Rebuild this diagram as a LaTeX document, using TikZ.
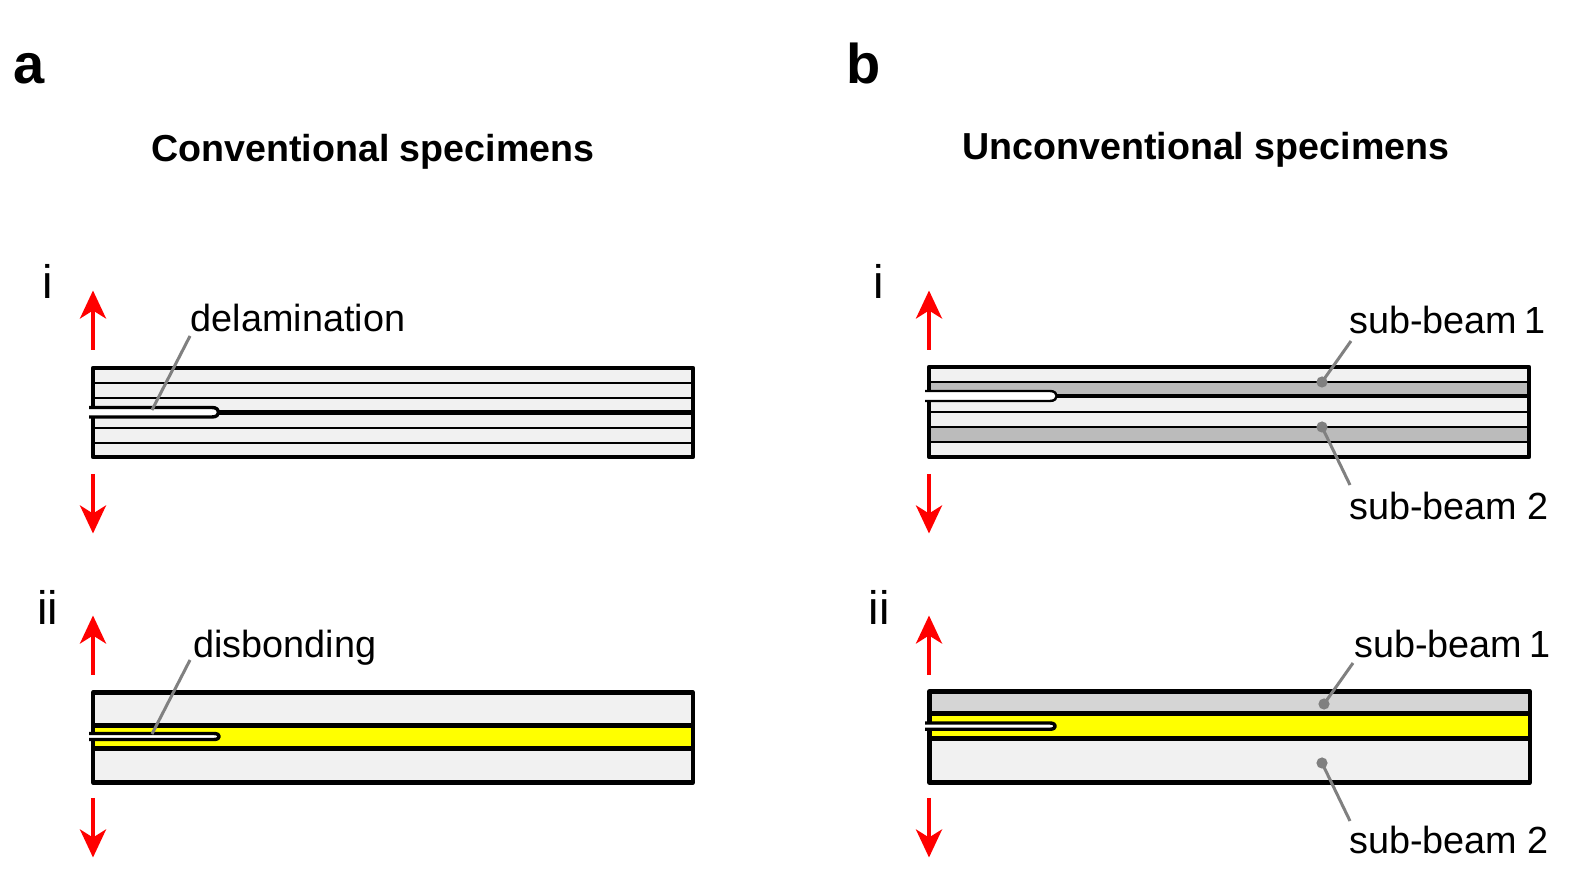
\documentclass[tikz,border=0pt]{standalone}
\usepackage{fontspec}
\setmainfont{Liberation Sans}
\usetikzlibrary{arrows.meta}
\definecolor{plylight}{RGB}{241,241,241}
\definecolor{plydark}{RGB}{187,187,187}
\definecolor{plymid}{RGB}{213,213,213}
\definecolor{leadgray}{RGB}{128,128,128}
\definecolor{adhesive}{RGB}{255,255,0}
\begin{document}
\begin{tikzpicture}[x=0.5pt,y=-0.5pt,line join=round,
  outer/.style={draw=black,line width=2.1pt},
  thin ply/.style={draw=black,line width=1pt},
  thick ply/.style={draw=black,line width=2.1pt},
  crack/.style={draw=black,fill=white,line width=1.7pt},
  load/.style={draw=red,line width=2pt,-{Stealth[length=14pt,width=13pt,inset=4pt]}},
  leader/.style={draw=leadgray,line width=1.5pt},
  dot/.style={fill=leadgray},
  word/.style={anchor=base west,inner sep=0pt,font=\fontsize{18.9}{22}\selectfont},
  roman/.style={anchor=base,inner sep=0pt,font=\fontsize{23.5}{26}\selectfont},
  title/.style={anchor=base west,inner sep=0pt,font=\fontsize{18.8}{22}\selectfont\bfseries},
  panel/.style={anchor=base west,inner sep=0pt,font=\fontsize{28}{30}\selectfont\bfseries}]
\useasboundingbox (0,0) rectangle (1569,870);
\fill[white] (0,0) rectangle (1569,870);

% headings
\node[panel] (la) at (13,83.5) {a};
\node[panel] (lb) at (846,83.5) {b};
\node[title] (ta) at (151,162) {Conventional specimens};
\node[title] (tb) at (962,160) {Unconventional specimens};
\node[roman] (ai) at (47.5,299) {i};
\node[roman] (aii) at (47.5,625) {ii};
\node[roman] (bi) at (879,299) {i};
\node[roman] (bii) at (879,625) {ii};

% red load arrows
\foreach \n/\x/\ya/\yb/\yc/\yd in {a/93/350/290.5/474/533.5, b/929/350/290.5/474/533.5,
                                   c/93/675/615.5/798/857.5, d/929/675/615.5/798/857.5} {
  \coordinate (\n1) at (\x,\ya);
  \coordinate (\n2) at (\x,\yb);
  \coordinate (\n3) at (\x,\yc);
  \coordinate (\n4) at (\x,\yd);
  \draw[load] (\n1) -- (\n2);
  \draw[load] (\n3) -- (\n4);
}

% a-i: laminate
\fill[plylight] (93,368) rectangle (693,457);
\draw[thin ply] (93,383) -- (693,383) (93,398) -- (693,398)
                (93,428) -- (693,428) (93,443) -- (693,443);
\draw[thick ply] (210,412.5) -- (693,412.5);
\draw[outer] (93,368) rectangle (693,457);
\draw[crack] (89,407.5) -- (212,407.5) .. controls (221,407.5) and (221,417) .. (212,417) -- (89,417);

% a-ii: bonded joint
\fill[plylight] (93,692.5) rectangle (693,782.5);
\fill[adhesive] (93,726) rectangle (693,749);
\draw[thick ply] (93,725.5) -- (693,725.5) (93,748.5) -- (693,748.5);
\draw[outer] (93,692.5) rectangle (693,782.5);
\draw[crack] (89,733.5) -- (214,733.5) .. controls (221,733.5) and (221,739.5) .. (214,739.5) -- (89,739.5);

% b-i: laminate with sub-beams
\fill[plylight] (929,367) rectangle (1529,457);
\fill[plydark] (929,382) rectangle (1529,396);
\fill[plydark] (929,427) rectangle (1529,442);
\draw[thin ply] (929,382) -- (1529,382) (929,412) -- (1529,412)
                (929,427) -- (1529,427) (929,442) -- (1529,442);
\draw[draw=black,line width=2.4pt] (1050,396) -- (1529,396);
\draw[outer] (929,367) rectangle (1529,457);
\draw[crack,line width=1.2pt] (925,391) -- (1050,391) .. controls (1059,391) and (1059,401) .. (1050,401) -- (925,401);

% b-ii: bonded joint with sub-beams
\fill[plylight] (929.5,691.5) rectangle (1530,782.5);
\fill[plymid] (929.5,691.5) rectangle (1530,714);
\fill[adhesive] (929.5,714) rectangle (1530,739);
\draw[thick ply] (929.5,713.5) -- (1530,713.5) (929.5,738.5) -- (1530,738.5);
\draw[outer] (929.5,691.5) rectangle (1530,782.5);
\draw[crack] (925,723) -- (1050,723) .. controls (1057,723) and (1057,729.3) .. (1050,729.3) -- (925,729.3);

% labels and leaders
\node[word] (del) at (190.5,332) {delamination};
\node[word] (dis) at (193,658) {disbonding};
\node[word] (s1) at (1349,334) {sub-beam\kern-1.6pt{} 1};
\node[word] (s2) at (1349,519.5) {sub-beam 2};
\node[word] (s3) at (1354,658) {sub-beam\kern-1.6pt{} 1};
\node[word] (s4) at (1349,854) {sub-beam 2};

\coordinate (del-a) at (190,336);
\coordinate (del-b) at (152,410);
\coordinate (dis-a) at (190,660);
\coordinate (dis-b) at (152,734);
\coordinate (s1-a) at (1351,341);
\coordinate (s1-b) at (1322,382);
\coordinate (s2-a) at (1350,485);
\coordinate (s2-b) at (1322,427);
\coordinate (s3-a) at (1353,663);
\coordinate (s3-b) at (1324,704);
\coordinate (s4-a) at (1350,821);
\coordinate (s4-b) at (1322,763);

\draw[leader] (del-a) -- (del-b);
\draw[leader] (dis-a) -- (dis-b);
\foreach \n in {s1,s2,s3,s4} {
  \draw[leader] (\n-a) -- (\n-b);
  \fill[dot] (\n-b) circle (2.8pt);
}
\end{tikzpicture}
\end{document}
